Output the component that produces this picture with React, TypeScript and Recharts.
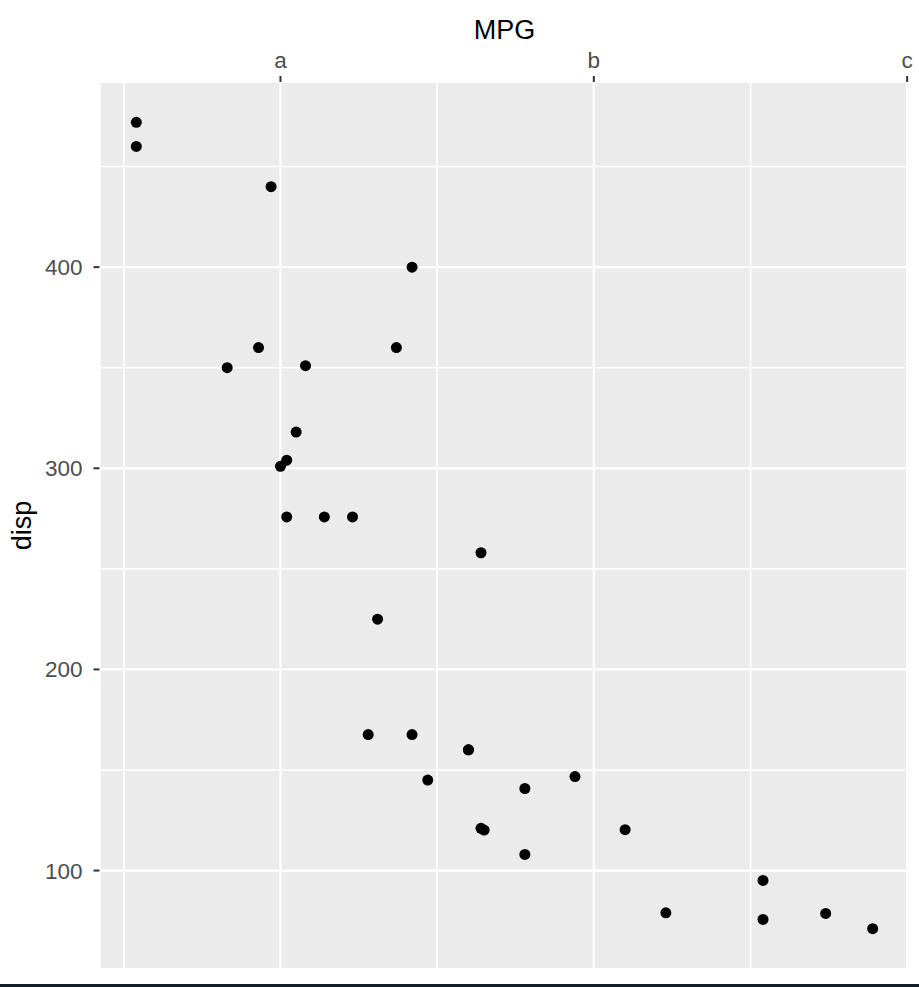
import React from "react";
import {
  ScatterChart,
  Scatter,
  XAxis,
  YAxis,
  CartesianGrid,
  Label,
} from "recharts";

// mtcars: mpg vs displacement
const cars = [
  "Mazda RX4", "Mazda RX4 Wag", "Datsun 710", "Hornet 4 Drive", "Hornet Sportabout",
  "Valiant", "Duster 360", "Merc 240D", "Merc 230", "Merc 280", "Merc 280C",
  "Merc 450SE", "Merc 450SL", "Merc 450SLC", "Cadillac Fleetwood", "Lincoln Continental",
  "Chrysler Imperial", "Fiat 128", "Honda Civic", "Toyota Corolla", "Toyota Corona",
  "Dodge Challenger", "AMC Javelin", "Camaro Z28", "Pontiac Firebird", "Fiat X1-9",
  "Porsche 914-2", "Lotus Europa", "Ford Pantera L", "Ferrari Dino", "Maserati Bora",
  "Volvo 142E",
];
const mpg = [
  21.0, 21.0, 22.8, 21.4, 18.7, 18.1, 14.3, 24.4, 22.8, 19.2, 17.8, 16.4, 17.3, 15.2,
  10.4, 10.4, 14.7, 32.4, 30.4, 33.9, 21.5, 15.5, 15.2, 13.3, 19.2, 27.3, 26.0, 30.4,
  15.8, 19.7, 15.0, 21.4,
];
const disp = [
  160, 160, 108, 258, 360, 225, 360, 146.7, 140.8, 167.6, 167.6, 275.8, 275.8, 275.8,
  472, 460, 440, 78.7, 75.7, 71.1, 120.1, 318, 304, 350, 400, 79, 120.3, 95.1, 351, 145,
  301, 121,
];

const xTicks = [15, 25, 35];
const xTickLabels = ["a", "b", "c"];
const xMinor = [10, 20, 30];
const yTicks = [100, 200, 300, 400];
const yMinor = [150, 250, 350, 450];
const xDomain = [9.225, 35.075];
const yDomain = [51.055, 492.045];

const data = cars.map((name, i) => ({ name, mpg: mpg[i], disp: disp[i] }));

const FONT = "'Liberation Sans', Arial, sans-serif";

const renderTitle = (props: any) => {
  const vb = props.viewBox;
  return (
    <text
      x={vb.x + vb.width / 2}
      y={vb.y + 39}
      textAnchor="middle"
      fontSize={27}
      fontFamily={FONT}
      fill="#000"
    >
      MPG
    </text>
  );
};

const renderYTitle = (props: any) => {
  const vb = props.viewBox;
  const cx = vb.x + 31;
  const cy = vb.y + vb.height / 2;
  return (
    <text
      x={cx}
      y={cy}
      textAnchor="middle"
      fontSize={27}
      fontFamily={FONT}
      fill="#000"
      transform={`rotate(-90, ${cx}, ${cy})`}
    >
      disp
    </text>
  );
};

export default function App() {
  return (
    <div style={{ position: "absolute", left: 0, top: 0, width: 919, height: 987, background: "#fff" }}>
      <ScatterChart
        width={919}
        height={987}
        margin={{ top: 0, right: 9.5, bottom: 18, left: 0 }}
      >
        <CartesianGrid fill="#EBEBEB" stroke="#FFFFFF" strokeWidth={2.2} />
        <CartesianGrid
          stroke="#FFFFFF"
          strokeWidth={1.6}
          verticalValues={xMinor}
          horizontalValues={yMinor}
        />
        <XAxis
          type="number"
          dataKey="mpg"
          orientation="top"
          height={82}
          domain={xDomain}
          allowDataOverflow
          ticks={xTicks}
          tickFormatter={(v) => xTickLabels[xTicks.indexOf(v)]}
          tick={{ fill: "#4D4D4D", fontSize: 22.5, fontFamily: FONT }}
          tickLine={{ stroke: "#333333", strokeWidth: 2 }}
          tickSize={6}
          tickMargin={8}
          axisLine={false}
        >
          <Label content={renderTitle} />
        </XAxis>
        <YAxis
          type="number"
          dataKey="disp"
          width={99.5}
          domain={yDomain}
          allowDataOverflow
          ticks={yTicks}
          tick={{ fill: "#4D4D4D", fontSize: 22.5, fontFamily: FONT }}
          tickLine={{ stroke: "#333333", strokeWidth: 2 }}
          tickSize={6}
          tickMargin={11}
          axisLine={false}
        >
          <Label content={renderYTitle} />
        </YAxis>
        <Scatter
          data={data}
          isAnimationActive={false}
          shape={(p: any) => <circle cx={p.cx} cy={p.cy} r={5.5} fill="#000000" />}
        />
      </ScatterChart>
      <div
        style={{ position: "absolute", left: 0, top: 984, width: 919, height: 3, background: "#13202A" }}
      />
    </div>
  );
}
